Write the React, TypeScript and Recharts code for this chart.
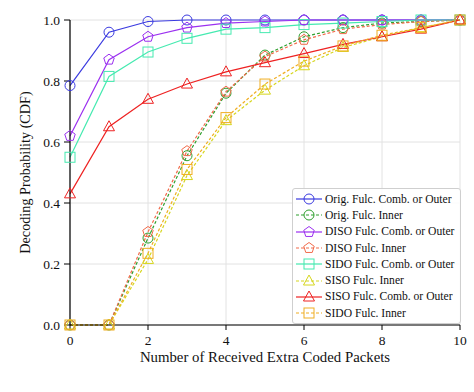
import React from 'react';
import { LineChart, Line, XAxis, YAxis, CartesianGrid } from 'recharts';

const packets = [0, 1, 2, 3, 4, 5, 6, 7, 8, 9, 10];
const xTicks = [0, 2, 4, 6, 8, 10];
const yTicks = [0, 0.2, 0.4, 0.6, 0.8, 1.0];

const origComb = [0.785, 0.96, 0.995, 1.0, 1.0, 1.0, 1.0, 1.0, 1.0, 1.0, 1.0];
const origInner = [0, 0, 0.285, 0.555, 0.76, 0.885, 0.945, 0.975, 0.99, 0.995, 1.0];
const disoComb = [0.62, 0.87, 0.945, 0.975, 0.99, 0.995, 1.0, 1.0, 1.0, 1.0, 1.0];
const disoInner = [0, 0, 0.305, 0.57, 0.765, 0.88, 0.935, 0.97, 0.985, 0.995, 1.0];
const sidoComb = [0.55, 0.815, 0.895, 0.94, 0.97, 0.975, 0.985, 0.99, 0.995, 1.0, 1.0];
const sisoInner = [0, 0, 0.215, 0.49, 0.67, 0.77, 0.85, 0.91, 0.945, 0.975, 1.0];
const sisoComb = [0.43, 0.65, 0.74, 0.79, 0.83, 0.86, 0.89, 0.92, 0.945, 0.97, 1.0];
const sidoInner = [0, 0, 0.235, 0.51, 0.68, 0.79, 0.865, 0.915, 0.95, 0.975, 1.0];

type Shape = 'circle' | 'pentagon' | 'square' | 'triangle';

const series: { key: string; name: string; values: number[]; color: string; dashed: boolean; shape: Shape }[] = [
  { key: 'origComb', name: 'Orig. Fulc. Comb. or Outer', values: origComb, color: '#3b3be0', dashed: false, shape: 'circle' },
  { key: 'origInner', name: 'Orig. Fulc. Inner', values: origInner, color: '#2fa02f', dashed: true, shape: 'circle' },
  { key: 'disoComb', name: 'DISO Fulc. Comb. or Outer', values: disoComb, color: '#9b30f0', dashed: false, shape: 'pentagon' },
  { key: 'disoInner', name: 'DISO Fulc. Inner', values: disoInner, color: '#f26a4a', dashed: true, shape: 'pentagon' },
  { key: 'sidoComb', name: 'SIDO Fulc. Comb. or Outer', values: sidoComb, color: '#45eab0', dashed: false, shape: 'square' },
  { key: 'sisoInner', name: 'SISO Fulc. Inner', values: sisoInner, color: '#d6d61e', dashed: true, shape: 'triangle' },
  { key: 'sisoComb', name: 'SISO Fulc. Comb. or Outer', values: sisoComb, color: '#ee2222', dashed: false, shape: 'triangle' },
  { key: 'sidoInner', name: 'SIDO Fulc. Inner', values: sidoInner, color: '#f0ae22', dashed: true, shape: 'square' },
];

const chartData = packets.map((x, i) => {
  const row: Record<string, number> = { x };
  series.forEach((s) => {
    row[s.key] = s.values[i];
  });
  return row;
});

const FONT = '"Liberation Serif", "DejaVu Serif", serif';

function marker(shape: Shape, cx: number, cy: number, color: string, key?: string) {
  const common = { fill: 'none', stroke: color, strokeWidth: 1 };
  if (shape === 'circle') return <circle key={key} cx={cx} cy={cy} r={5} {...common} />;
  if (shape === 'square') return <rect key={key} x={cx - 5} y={cy - 5} width={10} height={10} {...common} />;
  if (shape === 'triangle') {
    const pts = `${cx},${cy - 6} ${cx - 5.5},${cy + 4} ${cx + 5.5},${cy + 4}`;
    return <polygon key={key} points={pts} {...common} />;
  }
  const r = 5.5;
  const pts = [0, 1, 2, 3, 4]
    .map((k) => {
      const a = -Math.PI / 2 + (k * 2 * Math.PI) / 5;
      return `${cx + r * Math.cos(a)},${cy + r * Math.sin(a)}`;
    })
    .join(' ');
  return <polygon key={key} points={pts} {...common} />;
}

function makeDot(shape: Shape, color: string) {
  return (props: any) => {
    const { cx, cy, index } = props;
    if (cx == null || cy == null) return <g key={`d-${index}`} />;
    return marker(shape, cx, cy, color, `d-${index}`);
  };
}

function LegendBox() {
  return (
    <div
      style={{
        position: 'absolute',
        left: 292,
        top: 188,
        border: '1px solid #cfcfcf',
        borderRadius: 3,
        background: 'rgba(255,255,255,0.85)',
        padding: '2px 6px 2px 2px',
        fontFamily: FONT,
        fontSize: 11.6,
        color: '#111',
      }}
    >
      {series.map((s) => (
        <div key={s.key} style={{ display: 'flex', alignItems: 'center', height: 16.3 }}>
          <svg width={28} height={14} style={{ marginRight: 2 }}>
            <line
              x1={1}
              y1={7}
              x2={27}
              y2={7}
              stroke={s.color}
              strokeWidth={1.2}
              strokeDasharray={s.dashed ? '3 2' : undefined}
            />
            {marker(s.shape, 14, 7, s.color)}
          </svg>
          <span style={{ whiteSpace: 'nowrap' }}>{s.name}</span>
        </div>
      ))}
    </div>
  );
}

export default function App() {
  return (
    <div style={{ position: 'absolute', left: 0, top: 0, width: 474, height: 392, background: '#fff' }}>
      <LineChart width={474} height={392} data={chartData} margin={{ top: 20, right: 14, left: 0, bottom: 22 }}>
        <CartesianGrid stroke="#e2e2e2" strokeWidth={1} />
        <XAxis
          dataKey="x"
          type="number"
          domain={[0, 10]}
          ticks={xTicks}
          height={45}
          tickLine={{ stroke: '#000' }}
          tickSize={5}
          tickMargin={5}
          axisLine={{ stroke: '#000', strokeWidth: 1.2 }}
          tick={{ fill: '#111', fontSize: 13.5, fontFamily: FONT }}
          label={{ value: 'Number of Received Extra Coded Packets', position: 'insideBottom', offset: 8, fill: '#111', fontSize: 14.8, fontFamily: FONT }}
        />
        <XAxis xAxisId="top" orientation="top" type="number" domain={[0, 10]} ticks={[]} height={0} axisLine={{ stroke: '#000', strokeWidth: 1.2 }} tick={false} />
        <YAxis
          type="number"
          domain={[0, 1]}
          ticks={yTicks}
          width={70}
          tickSize={6}
          tickMargin={4}
          tickLine={{ stroke: '#000' }}
          axisLine={{ stroke: '#000', strokeWidth: 1.2 }}
          tickFormatter={(v: number) => v.toFixed(1)}
          tick={{ fill: '#111', fontSize: 13.5, fontFamily: FONT }}
          label={{ value: 'Decoding Probability (CDF)', angle: -90, position: 'insideLeft', offset: 25, style: { textAnchor: 'middle' }, fill: '#111', fontSize: 14.2, fontFamily: FONT }}
        />
        <YAxis yAxisId="right" orientation="right" domain={[0, 1]} ticks={[]} width={0} axisLine={{ stroke: '#000', strokeWidth: 1.2 }} tick={false} />
        {series.map((s) => (
          <Line
            key={s.key}
            dataKey={s.key}
            name={s.name}
            stroke={s.color}
            strokeWidth={1.2}
            strokeDasharray={s.dashed ? '3 2' : undefined}
            dot={makeDot(s.shape, s.color)}
            activeDot={false}
            isAnimationActive={false}
          />
        ))}
      </LineChart>
      <LegendBox />
    </div>
  );
}
